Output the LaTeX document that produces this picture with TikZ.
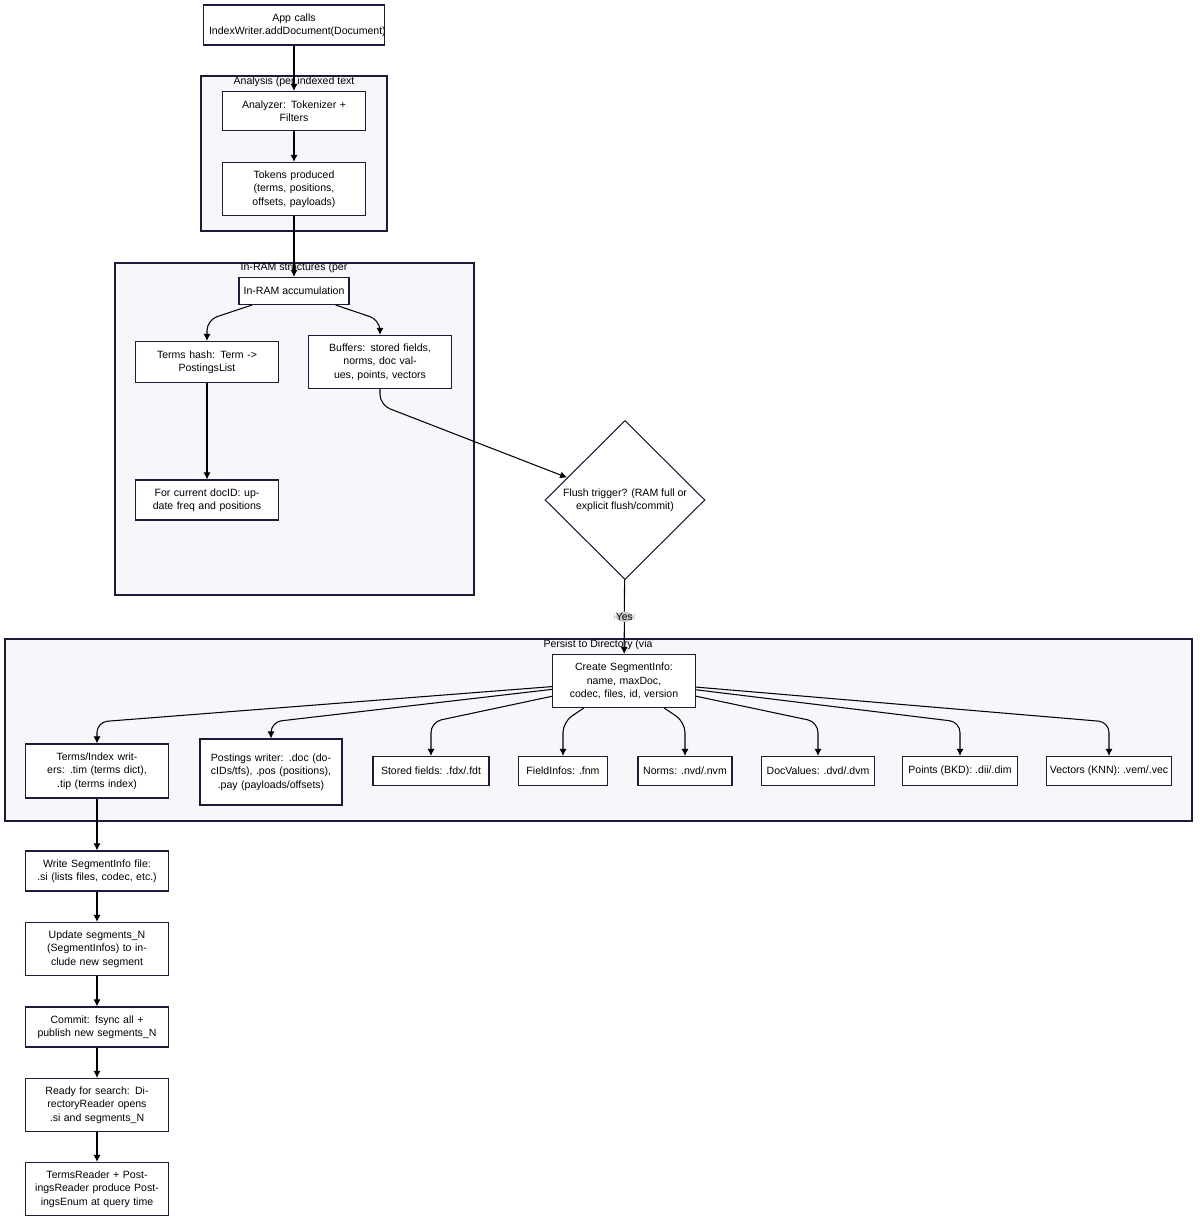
\documentclass[tikz,border=0pt]{standalone}
\usepackage{fontspec}
\setmainfont{Liberation Sans}
\usetikzlibrary{positioning}
\usetikzlibrary{arrows.meta,shapes.geometric}

\definecolor{edge}{HTML}{1B1B3A}
\definecolor{clfill}{HTML}{F7F7FB}

\begin{document}
\begin{tikzpicture}[x=0.02cm,y=-0.02cm,
	font=\fontsize{6}{7.6}\selectfont]
	\tikzstyle{box} = [draw=edge, fill=white, line width=0.6pt, align=center, inner sep=2pt]
	\tikzstyle{group} = [draw=edge, fill=clfill, line width=0.6pt]
	\tikzstyle{arrow} = [-{Latex[length=4pt,width=4pt]}, draw=black, line width=0.6pt, rounded corners=6pt]

	\useasboundingbox (0,0) rectangle (1200,1224);

	% clusters
	\draw [group] (201,76) rectangle (387,231);
	\node (lanalysis) at (294,82) {Analysis (per indexed text};
	\draw [group] (115,263) rectangle (474,595);
	\node (lram) at (294,268) {In-RAM structures (per};
	\draw [group] (5,639) rectangle (1192,821);
	\node (lpersist) at (598,645) {Persist to Directory (via};

	% nodes
	\node [box, minimum width=3.62cm, minimum height=0.8cm, text width=3.4cm] (app) at (294,25) {App calls\\IndexWriter.addDocument(Document)};
	\node [box, minimum width=2.86cm, minimum height=0.78cm, text width=2.5cm] (analyzer) at (294,111) {Analyzer: Tokenizer +\\Filters};
	\node [box, minimum width=2.86cm, minimum height=1.06cm, text width=2.6cm] (tokens) at (294,189) {Tokens produced (terms, positions, offsets, payloads)};
	\node [box, minimum width=2.2cm, minimum height=0.54cm] (inram) at (294,291) {In-RAM accumulation};
	\node [box, minimum width=2.86cm, minimum height=0.82cm, text width=2.6cm] (terms) at (207,362) {Terms hash: Term ->\\PostingsList};
	\node [box, minimum width=2.86cm, minimum height=1.06cm, text width=2.6cm] (buffers) at (380,362) {Buffers: stored fields, norms, doc values, points, vectors};
	\node [box, minimum width=2.86cm, minimum height=0.8cm, text width=2.6cm] (current) at (207,500) {For current docID: update freq and positions};
	\node [box, diamond, minimum width=3.2cm, minimum height=3.18cm, inner sep=0pt] (flush) at (625,500) {Flush trigger? (RAM full or\\explicit flush/commit)};
	\node [box, minimum width=2.86cm, minimum height=1.06cm, text width=2.6cm] (create) at (624,681) {Create SegmentInfo: name, maxDoc, codec, files, id, version};

	\node [box, minimum width=2.86cm, minimum height=1.08cm, text width=2.6cm] (termsidx) at (97,771) {Terms/Index writers: .tim (terms dict), .tip (terms index)};
	\node [box, minimum width=2.84cm, minimum height=1.32cm, text width=2.5cm] (postings) at (271,772) {Postings writer: .doc (docIDs/tfs), .pos (positions), .pay (payloads/offsets)};
	\node [box, minimum width=2.32cm, minimum height=0.58cm] (stored) at (431,771) {Stored fields: .fdx/.fdt};
	\node [box, minimum width=1.78cm, minimum height=0.58cm] (fieldinfos) at (563,771) {FieldInfos: .fnm};
	\node [box, minimum width=1.88cm, minimum height=0.58cm] (norms) at (685,771) {Norms: .nvd/.nvm};
	\node [box, minimum width=2.26cm, minimum height=0.58cm] (docvalues) at (818,771) {DocValues: .dvd/.dvm};
	\node [box, minimum width=2.3cm, minimum height=0.58cm] (points) at (960,771) {Points (BKD): .dii/.dim};
	\node [box, minimum width=2.46cm, minimum height=0.58cm] (vectors) at (1109,771) {Vectors (KNN): .vem/.vec};

	\node [box, minimum width=2.86cm, minimum height=0.8cm, text width=2.6cm] (writesi) at (97,871) {Write SegmentInfo file: .si (lists files, codec, etc.)};
	\node [box, minimum width=2.86cm, minimum height=1.06cm, text width=2.6cm] (update) at (97,949) {Update segments\_N (SegmentInfos) to include new segment};
	\node [box, minimum width=2.86cm, minimum height=0.8cm, text width=2.6cm] (commit) at (97,1027) {Commit: fsync all + publish new segments\_N};
	\node [box, minimum width=2.86cm, minimum height=1.06cm, text width=2.6cm] (ready) at (97,1105) {Ready for search: DirectoryReader opens .si and segments\_N};
	\node [box, minimum width=2.86cm, minimum height=1.06cm, text width=2.6cm] (reader) at (97,1189) {TermsReader + PostingsReader produce PostingsEnum at query time};

	% connectors
	\path [arrow] (app) -- (analyzer);
	\path [arrow] (analyzer) -- (tokens);
	\path [arrow] (tokens) -- (inram);
	\path [arrow] (inram) -- (207,320) -- (terms);
	\path [arrow] (inram) -- (380,320) -- (buffers);
	\path [arrow] (terms) -- (current);
	\path [arrow] (buffers.south) -- (380,405) -- (flush);
	\path [arrow] (flush) -- node[fill=black!20, inner sep=1pt] {Yes} (create);
	\foreach \t/\x in {termsidx/97, postings/271, stored/431, fieldinfos/563, norms/685, docvalues/818, points/960, vectors/1109}
		\path [arrow] (create) -- (\x,722) -- (\t);
	\path [arrow] (termsidx) -- (writesi);
	\path [arrow] (writesi) -- (update);
	\path [arrow] (update) -- (commit);
	\path [arrow] (commit) -- (ready);
	\path [arrow] (ready) -- (reader);
\end{tikzpicture}
\end{document}
